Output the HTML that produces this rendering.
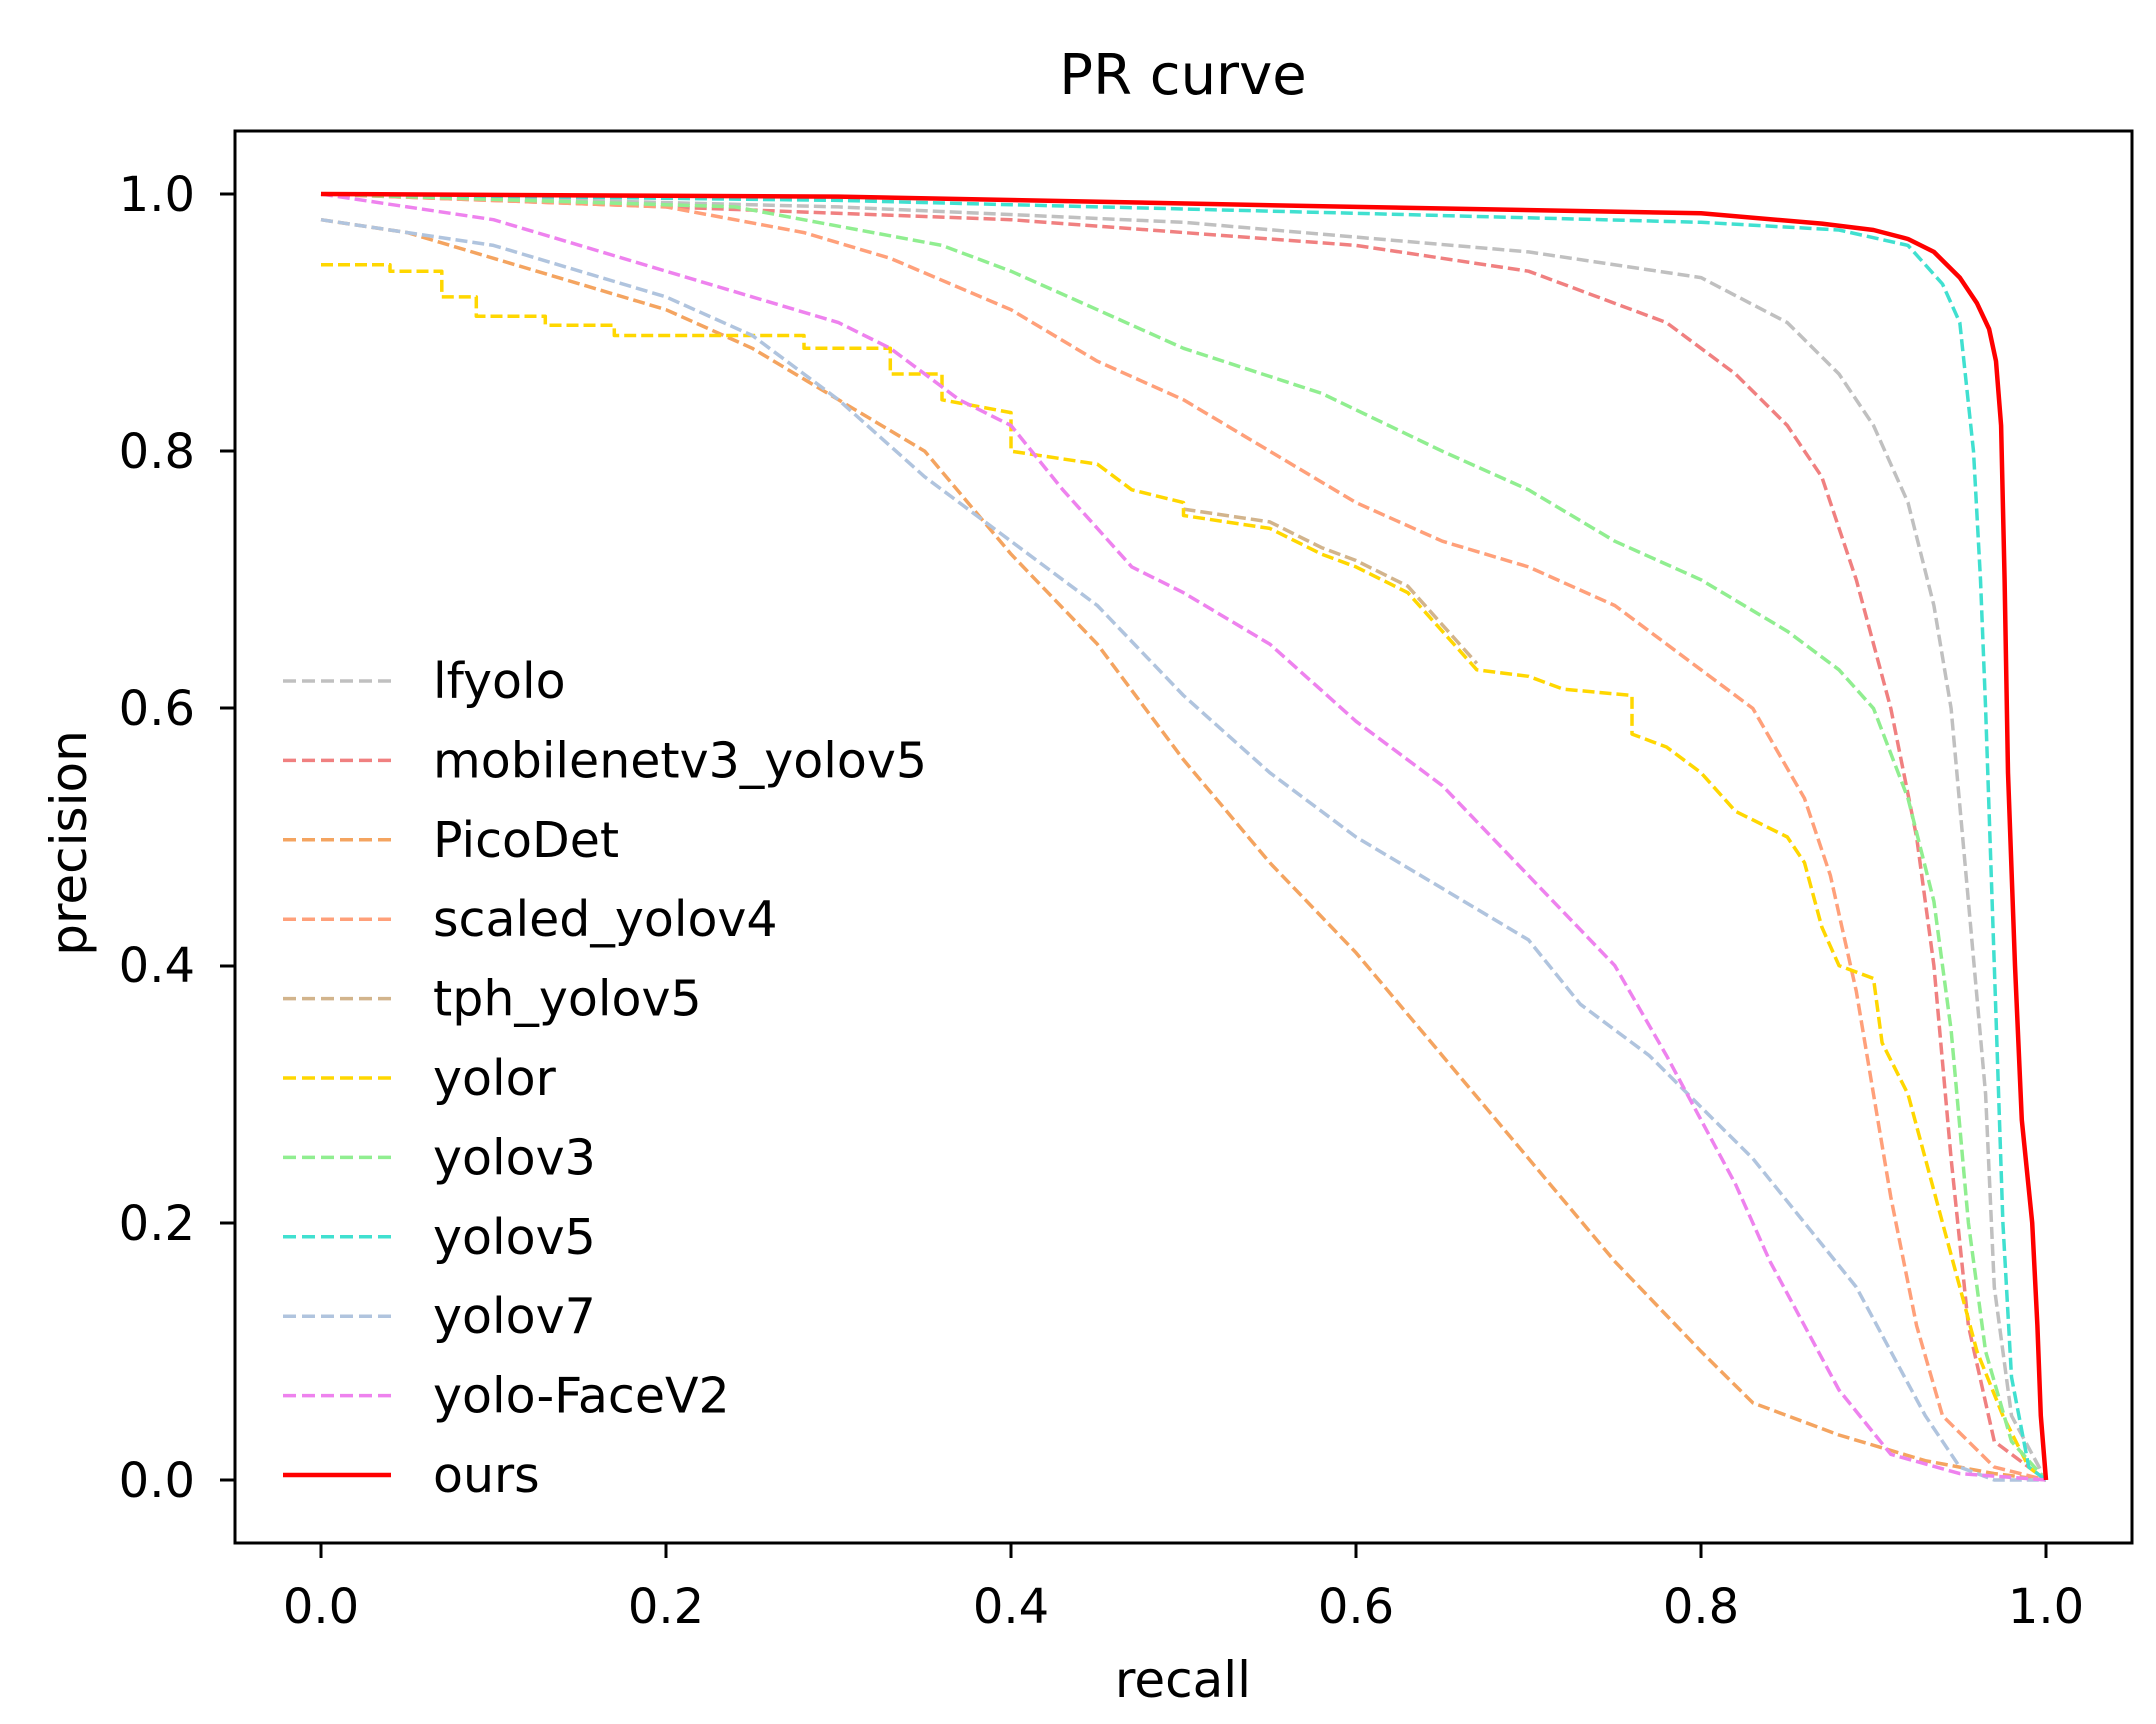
<!DOCTYPE html>
<html><head><meta charset="utf-8"><style>
html,body{margin:0;padding:0;background:#fff;}
svg{display:block;font-family:"DejaVu Sans","Liberation Sans",sans-serif;}
</style></head><body>
<svg id="s" width="2156" height="1724" xmlns="http://www.w3.org/2000/svg">
<rect width="2156" height="1724" fill="#fff"/>
<g id="curves"></g>
<rect x="235" y="131" width="1897" height="1412" fill="none" stroke="#000" stroke-width="3"/>
<text x="1183" y="94" font-size="56" text-anchor="middle">PR curve</text>
<g font-size="48" text-anchor="end">
<text x="195" y="1497">0.0</text>
<text x="195" y="1240">0.2</text>
<text x="195" y="982">0.4</text>
<text x="195" y="725">0.6</text>
<text x="195" y="468">0.8</text>
<text x="195" y="211">1.0</text>
</g>
<g stroke="#000" stroke-width="3">
<line x1="220" x2="235" y1="1480" y2="1480"/><line x1="220" x2="235" y1="1223" y2="1223"/>
<line x1="220" x2="235" y1="966" y2="966"/><line x1="220" x2="235" y1="708" y2="708"/>
<line x1="220" x2="235" y1="451" y2="451"/><line x1="220" x2="235" y1="194" y2="194"/>
<line y1="1543" y2="1558" x1="321" x2="321"/><line y1="1543" y2="1558" x1="666" x2="666"/>
<line y1="1543" y2="1558" x1="1011" x2="1011"/><line y1="1543" y2="1558" x1="1356" x2="1356"/>
<line y1="1543" y2="1558" x1="1701" x2="1701"/><line y1="1543" y2="1558" x1="2046" x2="2046"/>
</g>
<g font-size="48" text-anchor="middle">
<text x="321" y="1623">0.0</text><text x="666" y="1623">0.2</text><text x="1011" y="1623">0.4</text>
<text x="1356" y="1623">0.6</text><text x="1701" y="1623">0.8</text><text x="2046" y="1623">1.0</text>
</g>
<text x="1183" y="1697" font-size="50" text-anchor="middle">recall</text>
<text transform="translate(86,843) rotate(-90)" font-size="50" text-anchor="middle">precision</text>
<g id="legend" font-size="49"></g>
</svg>
<script>
const X=x=>321+x*1725, Y=y=>1480-y*1286;
const S=[
["lfyolo","#c0c0c0",[[0,1],[0.3,0.99],[0.5,0.978],[0.7,0.955],[0.8,0.935],[0.85,0.9],[0.88,0.86],[0.9,0.82],[0.92,0.76],[0.935,0.68],[0.945,0.6],[0.955,0.45],[0.965,0.3],[0.97,0.15],[0.98,0.05],[1,0]]],
["mobilenetv3_yolov5","#f08080",[[0,1],[0.2,0.99],[0.4,0.98],[0.6,0.96],[0.7,0.94],[0.78,0.9],[0.82,0.86],[0.85,0.82],[0.87,0.78],[0.89,0.7],[0.91,0.6],[0.925,0.5],[0.935,0.4],[0.945,0.25],[0.955,0.12],[0.97,0.03],[1,0]]],
["PicoDet","#f4a460",[[0,0.98],[0.05,0.97],[0.1,0.95],[0.15,0.93],[0.2,0.91],[0.25,0.88],[0.3,0.84],[0.35,0.8],[0.4,0.72],[0.45,0.65],[0.5,0.56],[0.55,0.48],[0.6,0.41],[0.65,0.33],[0.7,0.25],[0.75,0.17],[0.8,0.1],[0.83,0.06],[0.88,0.035],[0.93,0.015],[0.97,0.005],[1,0]]],
["scaled_yolov4","#ffa07a",[[0,1],[0.2,0.99],[0.28,0.97],[0.33,0.95],[0.4,0.91],[0.45,0.87],[0.5,0.84],[0.55,0.8],[0.6,0.76],[0.65,0.73],[0.7,0.71],[0.75,0.68],[0.8,0.63],[0.83,0.6],[0.86,0.53],[0.875,0.47],[0.89,0.38],[0.9,0.3],[0.91,0.22],[0.925,0.12],[0.94,0.05],[0.97,0.01],[1,0]]],
["tph_yolov5","#d2b48c",[[0.5,0.755],[0.55,0.745],[0.58,0.725],[0.6,0.715],[0.63,0.695],[0.65,0.665],[0.67,0.635]]],
["yolor","#ffd700",[[0,0.945],[0.04,0.945],[0.04,0.94],[0.07,0.94],[0.07,0.92],[0.09,0.92],[0.09,0.905],[0.13,0.905],[0.13,0.898],[0.17,0.898],[0.17,0.89],[0.28,0.89],[0.28,0.88],[0.33,0.88],[0.33,0.86],[0.36,0.86],[0.36,0.84],[0.4,0.83],[0.4,0.8],[0.45,0.79],[0.47,0.77],[0.5,0.76],[0.5,0.75],[0.55,0.74],[0.58,0.72],[0.6,0.71],[0.63,0.69],[0.65,0.66],[0.67,0.63],[0.7,0.625],[0.72,0.615],[0.76,0.61],[0.76,0.58],[0.78,0.57],[0.8,0.55],[0.82,0.52],[0.85,0.5],[0.86,0.48],[0.87,0.43],[0.88,0.4],[0.9,0.39],[0.905,0.34],[0.92,0.3],[0.93,0.25],[0.94,0.2],[0.95,0.15],[0.96,0.1],[0.975,0.05],[0.99,0.01],[1,0]]],
["yolov3","#90ee90",[[0,1],[0.24,0.99],[0.3,0.975],[0.36,0.96],[0.4,0.94],[0.45,0.91],[0.5,0.88],[0.58,0.845],[0.65,0.8],[0.7,0.77],[0.75,0.73],[0.8,0.7],[0.85,0.66],[0.88,0.63],[0.9,0.6],[0.92,0.53],[0.935,0.45],[0.945,0.35],[0.955,0.2],[0.965,0.1],[0.98,0.03],[1,0]]],
["yolov5","#40e0d0",[[0,1],[0.3,0.995],[0.6,0.985],[0.8,0.978],[0.88,0.972],[0.92,0.96],[0.94,0.93],[0.95,0.9],[0.958,0.8],[0.962,0.7],[0.965,0.6],[0.97,0.4],[0.975,0.2],[0.98,0.08],[0.99,0.01],[1,0]]],
["yolov7","#b0c4de",[[0,0.98],[0.1,0.96],[0.2,0.92],[0.25,0.89],[0.3,0.84],[0.35,0.78],[0.4,0.73],[0.45,0.68],[0.5,0.61],[0.55,0.55],[0.6,0.5],[0.65,0.46],[0.7,0.42],[0.73,0.37],[0.77,0.33],[0.8,0.29],[0.83,0.25],[0.86,0.2],[0.89,0.15],[0.91,0.1],[0.93,0.05],[0.95,0.01],[0.97,0],[1,0]]],
["yolo-FaceV2","#ee82ee",[[0,1],[0.05,0.99],[0.1,0.98],[0.15,0.96],[0.2,0.94],[0.25,0.92],[0.3,0.9],[0.33,0.88],[0.37,0.84],[0.4,0.82],[0.43,0.77],[0.47,0.71],[0.5,0.69],[0.55,0.65],[0.6,0.59],[0.65,0.54],[0.7,0.47],[0.75,0.4],[0.78,0.33],[0.82,0.23],[0.84,0.17],[0.86,0.12],[0.88,0.07],[0.91,0.02],[0.95,0.005],[1,0]]],
["ours","#ff0000",[[0,1],[0.3,0.998],[0.6,0.99],[0.8,0.985],[0.87,0.977],[0.9,0.972],[0.92,0.965],[0.935,0.955],[0.95,0.935],[0.96,0.915],[0.967,0.895],[0.971,0.87],[0.974,0.82],[0.976,0.7],[0.978,0.55],[0.982,0.4],[0.986,0.28],[0.992,0.2],[0.995,0.12],[0.997,0.05],[1,0]]]
];
const NS="http://www.w3.org/2000/svg";
const g=document.getElementById("curves"), lg=document.getElementById("legend");
S.forEach((s,i)=>{
 const p=document.createElementNS(NS,"polyline");
 p.setAttribute("points",s[2].map(q=>X(q[0]).toFixed(1)+","+Y(q[1]).toFixed(1)).join(" "));
 p.setAttribute("fill","none");p.setAttribute("stroke",s[1]);
 const solid=s[0]=="ours";
 p.setAttribute("stroke-width",solid?"4.5":"3.5");
 if(!solid)p.setAttribute("stroke-dasharray","12,5");
 p.setAttribute("stroke-linejoin","round");
 g.appendChild(p);
 const y=681+i*79.4;
 const l=document.createElementNS(NS,"line");
 l.setAttribute("x1",283);l.setAttribute("x2",391);l.setAttribute("y1",y);l.setAttribute("y2",y);
 l.setAttribute("stroke",s[1]);l.setAttribute("stroke-width",solid?"4.5":"3.5");
 if(!solid)l.setAttribute("stroke-dasharray","13,6");
 lg.appendChild(l);
 const t=document.createElementNS(NS,"text");
 t.setAttribute("x",433);t.setAttribute("y",y+17);t.textContent=s[0];
 lg.appendChild(t);
});
</script>
</body></html>
